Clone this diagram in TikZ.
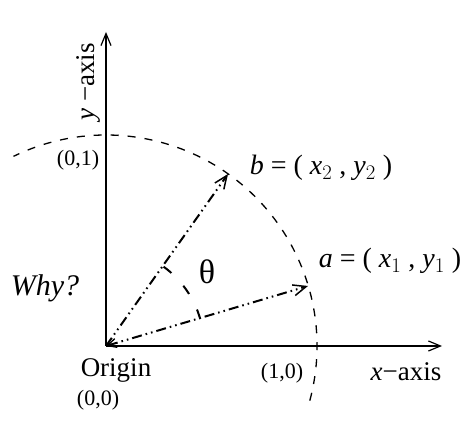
\documentclass[tikz,border=0pt]{standalone}
\usepackage{fontspec}
\setmainfont{Liberation Serif}
\usetikzlibrary{arrows.meta}
\begin{document}
\begin{tikzpicture}[x=1pt,y=1pt,
  axis/.style={line width=1.2pt,-{Straight Barb[length=12pt,width=10pt]}},
  vec/.style={line width=2pt,dash pattern=on 10pt off 4pt on 1.6pt off 4pt on 1.6pt off 4pt},
  endtip/.style={-{Straight Barb[length=13pt,width=11pt,line width=1.5pt]}},
  bothtips/.style={{Straight Barb[length=9pt,width=9pt,line width=1.3pt]}-{Straight Barb[length=13pt,width=11pt,line width=1.5pt]}},
  unitcircle/.style={line width=1.3pt,dash pattern=on 8pt off 9pt},
  anglemark/.style={line width=2pt,dash pattern=on 10pt off 17.5pt},
  big/.style={font=\fontsize{27}{30}\selectfont},
  small/.style={font=\fontsize{22}{26}\selectfont},
  lab/.style={font=\fontsize{28}{32}\selectfont}]
\useasboundingbox (0,0) rectangle (474,443);
\coordinate (O) at (106,97);
\coordinate (ytop) at (106,411);
\coordinate (xend) at (442,97);
\coordinate (a) at (308,157);
\coordinate (b) at (228,269);
% axes
\draw[axis] (O) -- (ytop);
\draw[axis] (O) -- (xend);
% unit circle
\draw[unitcircle] (O) ++(-15:211) arc[start angle=-15,end angle=116,radius=211];
% vectors
\draw[vec,bothtips] (O) -- (a);
\draw[vec,endtip] (O) -- (b);
% angle mark
\draw[anglemark] (O) ++(16:98) arc[start angle=16,end angle=54.5,radius=98];
% labels
\node[big] (ylab) at (88,361) [rotate=90] {\textit{y} −axis};
\node[small] (p01) at (78,283) {(0,1)};
\node[lab] (blab) at (321,275) {\textit{b} = ( \textit{x}$_2$ , \textit{y}$_2$ )};
\node[lab] (alab) at (390,182) {\textit{a} = ( \textit{x}$_1$ , \textit{y}$_1$ )};
\node[font=\fontsize{34}{36}\selectfont] (theta) at (207,171) {θ};
\node[big] (orig) at (116,73) {Origin};
\node[small] (p00) at (98,43) {(0,0)};
\node[small] (p10) at (282,70) {(1,0)};
\node[big] (xlab) at (406,71) {\textit{x}−axis};
\node[font=\fontsize{30}{32}\selectfont] (why) at (45,155) {\textit{Why?}};
\end{tikzpicture}
\end{document}
